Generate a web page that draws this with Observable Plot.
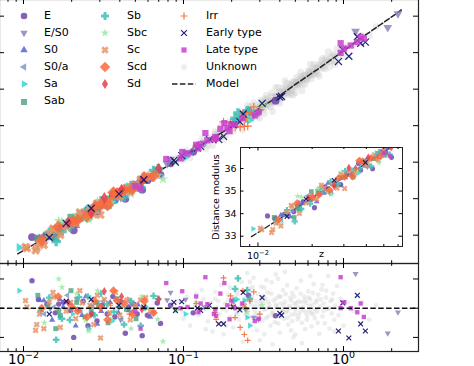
<!DOCTYPE html>
<html><head><meta charset="utf-8">
<script src="https://cdn.jsdelivr.net/npm/d3@7"></script>
<script src="https://cdn.jsdelivr.net/npm/@observablehq/plot@0.6"></script>
<style>
body{margin:0;background:#fff;font-family:"DejaVu Sans",sans-serif;}
#wrap{position:relative;width:474px;height:366px;overflow:hidden;background:#fff;}
#wrap > *{position:absolute;}
</style></head><body><div id="wrap"></div>
<script>
// ---------------- data (z, Hubble residual in mag) ----------------
const types = ["E","E/S0","S0","S0/a","Sa","Sab","Sb","Sbc","Sc","Scd","Sd","Irr","Early type","Late type","Unknown"];

const dE = [[0.0113,0.47],[0.0124,0.15],[0.014,0.07],[0.0158,-0.08],[0.0166,0.07],[0.0178,0.1],[0.0197,-0.04],[0.0206,-0.5],[0.0219,-0.02],[0.0236,0.12],[0.0253,-0.3],[0.0269,-0.1],[0.0288,-0.22],[0.0312,0.05],[0.0334,-0.1],[0.0362,0.2],[0.0372,-0.15],[0.0405,0.11],[0.0433,-0.43],[0.0455,0.02],[0.049,0.07],[0.0514,-0.1],[0.0552,-0.47],[0.0595,-0.12],[0.0685,0.09],[0.0718,-0.26],[0.083,0.05],[0.115,-0.08],[0.255,0.22],[0.376,-0.13]];
const dES0 = [[0.0147,-0.01],[0.0215,0.16],[0.0289,0.1],[0.0405,-0.2],[0.047,0.08],[0.065,-0.07],[0.079,0.14],[0.083,0.27],[0.103,0.15],[0.135,0.02],[0.275,-0.16],[0.295,-0.19],[1.19,0.59],[1.89,-0.43],[2.19,-0.07]];
const dS0 = [[0.0126,0.14],[0.0134,0.13],[0.0151,-0.2],[0.0169,0.15],[0.0177,0.02],[0.0195,0.08],[0.0212,-0.3],[0.0232,-0.12],[0.0245,0.2],[0.0262,0.03],[0.0289,-0.27],[0.0306,-0.05],[0.0348,0.1],[0.0392,-0.08],[0.0455,-0.04],[0.052,0.06],[0.062,-0.15]];
const dS0a = [[0.0135,-0.1],[0.0155,0.02],[0.0188,0.22],[0.0228,-0.06],[0.027,0.04],[0.0315,0.12],[0.041,-0.18],[0.048,-0.05]];
const dSa = [[0.0094,0.30],[0.0168,-0.15],[0.0203,-0.1],[0.0255,-0.35],[0.0285,0.1],[0.036,-0.22],[0.0455,0.15],[0.058,0.0],[0.103,-0.1],[0.216,0.15],[0.24,0.13],[0.245,0.0],[0.25,-0.16],[0.26,-0.3]];
const dSab = [[0.0123,0.22],[0.0142,0.05],[0.0159,-0.35],[0.0166,-0.04],[0.017,-0.125],[0.0198,0.3],[0.0215,0.1],[0.0242,-0.15],[0.0265,-0.05],[0.0295,0.05],[0.0338,-0.25],[0.0384,0.16],[0.044,-0.02],[0.0505,-0.18]];
const dSb = [[0.0128,-0.05],[0.0145,0.18],[0.016,-0.54],[0.0174,-0.18],[0.0195,-0.2],[0.0222,0.19],[0.0253,0.2],[0.0278,-0.12],[0.0305,0.25],[0.0334,0.07],[0.0368,-0.06],[0.0394,0.02],[0.0425,-0.28],[0.047,0.12],[0.054,-0.3],[0.0575,0.02],[0.065,0.21],[0.0695,0.16],[0.206,0.13],[0.21,0.33],[0.219,0.51],[0.25,0.31],[0.26,0.16]];
const dSbc = [[0.0135,-0.25],[0.0166,0.5],[0.0174,0.36],[0.0215,0.25],[0.0245,-0.21],[0.0256,-0.39],[0.029,0.3],[0.035,-0.18],[0.041,0.05],[0.047,-0.35],[0.055,0.2],[0.069,-0.19],[0.0745,-0.57],[0.09,-0.05],[0.12,0.1],[0.25,-0.07],[0.31,0.05]];
const dSc = [[0.0103,0.13],[0.0105,0.02],[0.0119,-0.38],[0.0121,-0.28],[0.0126,-0.1],[0.0134,-0.35],[0.0145,0.1],[0.0153,0.27],[0.0155,0.19],[0.017,-0.33],[0.0185,-0.05],[0.0197,0.1],[0.0212,-0.18],[0.0225,0.3],[0.0233,0.09],[0.026,0.05],[0.0275,-0.28],[0.0289,0.22],[0.0303,-0.51],[0.032,0.15],[0.0345,-0.08],[0.0376,0.27],[0.04,-0.12],[0.0443,0.14],[0.0465,-0.2],[0.05,0.05],[0.0539,0.14],[0.058,0.18],[0.062,-0.05],[0.24,0.04]];
const dScd = [[0.013,0.0],[0.0165,0.2],[0.0201,0.02],[0.0218,-0.05],[0.025,-0.15],[0.028,0.12],[0.0303,0.02],[0.0335,-0.2],[0.0365,0.3],[0.0384,0.13],[0.0425,0.08],[0.048,-0.1],[0.057,0.12],[0.065,-0.08]];
const dSd = [[0.019,0.1],[0.0265,-0.1],[0.032,0.29],[0.041,0.2],[0.055,-0.02],[0.07,0.15]];
const dIrr = [[0.035,0.05],[0.046,-0.1],[0.12,0.08],[0.157,-0.07],[0.16,-0.19],[0.178,0.52],[0.197,0.21],[0.2,0.05],[0.21,-0.16],[0.226,-0.33],[0.235,0.3],[0.24,-0.45],[0.245,-0.02],[0.252,-0.55],[0.26,0.12],[0.275,0.28],[0.3,-0.1]];
const dEarly = [[0.0145,-0.1],[0.0185,0.12],[0.0265,0.15],[0.0395,0.05],[0.0565,0.02],[0.0871,0.1],[0.089,-0.04],[0.0975,0.11],[0.122,0.0],[0.128,-0.04],[0.145,0.05],[0.166,-0.27],[0.178,-0.27],[0.205,0.02],[0.225,-0.03],[0.236,0.27],[0.31,0.18],[0.40,-0.09],[0.41,-0.12],[0.93,-0.39],[0.99,0.09],[1.08,-0.51],[1.22,0.22],[1.28,-0.27],[1.37,-0.39]];
const dLate = [[0.05,-0.05],[0.0539,-0.35],[0.078,0.43],[0.0958,0.0],[0.0982,0.29],[0.106,0.02],[0.12,0.2],[0.124,-0.07],[0.128,0.08],[0.137,0.53],[0.141,0.07],[0.155,-0.1],[0.158,-0.02],[0.16,-0.13],[0.17,0.25],[0.18,0.43],[0.188,0.05],[0.194,-0.19],[0.199,0.13],[0.21,0.0],[0.233,0.08],[0.279,-0.22],[0.295,-0.18],[0.96,0.53],[0.96,0.0],[1.01,0.1],[1.11,0.0],[1.22,-0.07],[1.28,0.08],[1.34,-0.15]];
const dUnknown = [
[0.092,0.12],[0.098,-0.05],[0.105,0.2],[0.11,-0.3],[0.118,0.05],[0.124,-0.12],[0.13,0.31],[0.137,-0.02],[0.142,-0.22],[0.149,0.1],
[0.152,-0.4],[0.157,0.16],[0.163,0.02],[0.168,-0.1],[0.172,0.4],[0.177,-0.25],[0.182,0.08],[0.186,-0.04],[0.191,0.23],[0.196,-0.15],
[0.201,0.05],[0.205,-0.33],[0.209,0.14],[0.213,-0.07],[0.218,0.28],[0.222,-0.2],[0.226,0.01],[0.231,0.45],[0.235,-0.58],[0.24,0.1],
[0.244,-0.11],[0.248,0.19],[0.252,-0.03],[0.257,0.33],[0.261,-0.27],[0.265,0.06],[0.27,-0.16],[0.274,0.52],[0.279,-0.05],[0.284,0.12],
[0.288,-0.38],[0.292,0.24],[0.297,-0.09],[0.301,0.02],[0.306,0.37],[0.311,-0.21],[0.316,0.09],[0.32,-0.45],[0.325,0.16],[0.33,-0.01],
[0.335,0.27],[0.34,-0.14],[0.345,0.06],[0.35,-0.3],[0.356,0.44],[0.361,-0.06],[0.366,0.13],[0.372,-0.24],[0.377,0.58],[0.383,0.03],
[0.389,-0.12],[0.395,0.21],[0.4,-0.42],[0.406,0.08],[0.412,-0.02],[0.418,0.31],[0.425,-0.18],[0.431,0.11],[0.438,-0.07],[0.444,0.39],
[0.451,-0.28],[0.458,0.04],[0.465,0.18],[0.472,-0.11],[0.479,0.26],[0.486,-0.5],[0.494,0.07],[0.501,-0.03],[0.509,0.34],[0.517,-0.19],
[0.525,0.12],[0.533,-0.08],[0.541,0.47],[0.55,-0.25],[0.558,0.02],[0.567,0.2],[0.575,-0.36],[0.584,0.09],[0.593,-0.13],[0.602,0.29],
[0.612,-0.04],[0.621,0.15],[0.631,-0.31],[0.641,0.06],[0.651,0.41],[0.661,-0.17],[0.672,0.1],[0.683,-0.06],[0.694,0.23],[0.705,-0.44],
[0.716,0.03],[0.728,0.32],[0.74,-0.14],[0.752,0.08],[0.764,-0.26],[0.777,0.18],[0.79,-0.02],[0.803,0.55],[0.817,-0.35],[0.831,0.12],
[0.845,-0.09],[0.86,0.25],[0.875,-0.2],[0.89,0.05],[0.91,0.38],[0.93,-0.12],[0.96,0.16],[1.0,-0.3],[1.06,0.1],[1.15,-0.05],
[0.228,0.07],[0.246,-0.06],[0.263,0.14],[0.282,-0.12],[0.299,0.08],[0.318,-0.03],[0.338,0.11],[0.358,-0.09],[0.38,0.17],[0.402,-0.15],
[0.423,0.05],[0.447,-0.04],[0.47,0.13],[0.497,-0.1],[0.52,0.02],[0.548,0.1],[0.58,-0.07],[0.61,0.04],[0.645,-0.1],[0.68,0.14],
[0.25,0.6],[0.3,-0.55],[0.36,-0.62],[0.43,0.62],[0.55,-0.6],[0.62,0.55],[0.27,0.36],[0.33,0.48],[0.47,-0.38],[0.74,0.4],
[1.3,0.1],[1.45,-0.2],[1.6,0.05],[0.215,0.22],[0.195,0.35],[0.178,-0.45],[0.158,0.28],[0.138,-0.36],[0.12,0.24],[0.1,-0.18],
[0.205,0.09],[0.218,-0.1],[0.232,0.03],[0.243,0.16],[0.256,-0.14],[0.268,0.2],[0.281,0.04],[0.293,-0.22],[0.305,0.13],[0.317,0.21],
[0.328,-0.17],[0.341,0.01],[0.353,0.25],[0.364,-0.13],[0.378,0.06],[0.391,-0.26],[0.405,0.19],[0.419,-0.05],[0.434,0.24],[0.449,-0.16],
[0.463,0.0],[0.478,-0.22],[0.492,0.2],[0.507,0.09],[0.523,-0.14],[0.539,0.25],[0.556,-0.03],[0.573,0.14],[0.59,-0.2],[0.607,0.18],
[0.625,-0.08],[0.643,0.26],[0.662,-0.02],[0.69,-0.25],[0.72,0.15],[0.75,-0.05],[0.78,0.3],[0.81,0.0],[0.85,0.15],[0.88,-0.4],
[0.165,0.12],[0.175,-0.02],[0.185,-0.3],[0.19,0.14],[0.145,0.0],[0.133,0.15],[0.26,0.45],[0.32,0.35],[0.39,0.5],[0.5,-0.45]];

// model distance modulus
const modelZ  = [0.0092,0.01,0.015,0.02,0.03,0.05,0.07,0.1,0.15,0.2,0.3,0.4,0.5,0.7,1.0,1.3,1.6,2.0,2.3];
const modelMu = [32.98,33.16,34.05,34.70,35.60,36.74,37.50,38.31,39.28,39.96,40.96,41.65,42.26,43.13,44.10,44.83,45.37,45.96,46.34];

const mainTicksY = [34,36,38,40,42,44,46];
const resTicksY = [-0.5,0,0.5];
const insetTicksY = [33,34,35,36];
const decadeTicks = [0.001,0.01,0.1,1,10];

// ---------------- styles ----------------
const tau = Math.PI*2;
function sym(f){ return {draw(c,size){ f(c, Math.sqrt(size/Math.PI)); }}; }
function poly(c, pts){ pts.forEach(([x,y],i)=> i? c.lineTo(x,y) : c.moveTo(x,y)); c.closePath(); }
function plusPts(a,t){ return [[-t,-a],[t,-a],[t,-t],[a,-t],[a,t],[t,t],[t,a],[-t,a],[-t,t],[-a,t],[-a,-t],[-t,-t]]; }
const S2 = Math.SQRT1_2;
const shapes = {
  circle: sym((c,r)=>{ c.moveTo(r,0); c.arc(0,0,r,0,tau); }),
  triDown: sym((c,r)=>{ const a=r*1.3; poly(c,[[0,a],[a*0.866,-a*0.5],[-a*0.866,-a*0.5]]); }),
  triUp: sym((c,r)=>{ const a=r*1.3; poly(c,[[0,-a],[a*0.866,a*0.5],[-a*0.866,a*0.5]]); }),
  triLeft: sym((c,r)=>{ const a=r*1.3; poly(c,[[-a,0],[a*0.5,-a*0.866],[a*0.5,a*0.866]]); }),
  triRight: sym((c,r)=>{ const a=r*1.3; poly(c,[[a,0],[-a*0.5,-a*0.866],[-a*0.5,a*0.866]]); }),
  square: sym((c,r)=>{ const s=r*0.88; c.rect(-s,-s,2*s,2*s); }),
  plusF: sym((c,r)=>{ const a=r*1.15; poly(c, plusPts(a, a*0.36)); }),
  star: sym((c,r)=>{ const a=r*1.45, p=[]; for(let k=0;k<10;k++){ const an=-Math.PI/2+k*Math.PI/5, rr=k%2? a*0.4:a; p.push([rr*Math.cos(an), rr*Math.sin(an)]); } poly(c,p); }),
  xF: sym((c,r)=>{ const a=r*1.15; poly(c, plusPts(a,a*0.36).map(([x,y])=>[(x-y)*S2,(x+y)*S2])); }),
  diamond: sym((c,r)=>{ const a=r*1.35; poly(c,[[0,-a],[a,0],[0,a],[-a,0]]); }),
  thinDiamond: sym((c,r)=>{ const a=r*1.35, w=a*0.62; poly(c,[[0,-a],[w,0],[0,a],[-w,0]]); }),
  plus: sym((c,r)=>{ const a=r*1.15; c.moveTo(-a,0); c.lineTo(a,0); c.moveTo(0,-a); c.lineTo(0,a); }),
  times: sym((c,r)=>{ const a=r*0.95; c.moveTo(-a,-a); c.lineTo(a,a); c.moveTo(-a,a); c.lineTo(a,-a); })
};
const styles = {
  "E":          {color:"#6a3fa8", shape:shapes.circle,      r:3.2, op:0.82},
  "E/S0":       {color:"#8a86b8", shape:shapes.triDown,     r:3.2, op:0.85},
  "S0":         {color:"#5f5fd2", shape:shapes.triUp,       r:3.2, op:0.85},
  "S0/a":       {color:"#7d9cc8", shape:shapes.triLeft,     r:3.2, op:0.85},
  "Sa":         {color:"#33d6d0", shape:shapes.triRight,    r:3.2, op:0.85},
  "Sab":        {color:"#4fa27f", shape:shapes.square,      r:3.3, op:0.82},
  "Sb":         {color:"#3fc0b6", shape:shapes.plusF,       r:3.4, op:0.85},
  "Sbc":        {color:"#9fe8a8", shape:shapes.star,        r:3.0, op:0.85},
  "Sc":         {color:"#e59366", shape:shapes.xF,          r:3.3, op:0.82},
  "Scd":        {color:"#fa6a3c", shape:shapes.diamond,     r:3.8, op:0.85},
  "Sd":         {color:"#e5404c", shape:shapes.thinDiamond, r:3.6, op:0.85},
  "Irr":        {color:"#f36f3a", shape:shapes.plus,        r:3.0, op:0.9, stroke:true},
  "Early type": {color:"#16166e", shape:shapes.times,       r:3.0, op:0.95, stroke:true},
  "Late type":  {color:"#c83fcf", shape:shapes.square,      r:2.9, op:0.85},
  "Unknown":    {color:"#bdbdbd", shape:shapes.circle,      r:2.8, op:0.27}
};
const series = {"E":dE,"E/S0":dES0,"S0":dS0,"S0/a":dS0a,"Sa":dSa,"Sab":dSab,"Sb":dSb,"Sbc":dSbc,"Sc":dSc,"Scd":dScd,"Sd":dSd,"Irr":dIrr,"Early type":dEarly,"Late type":dLate,"Unknown":dUnknown};

// ---------------- derived table ----------------
const LZ = modelZ.map(Math.log10);
function modelAt(z){
  const lz = Math.log10(z);
  let i = 0;
  while (i < LZ.length-2 && lz > LZ[i+1]) i++;
  const t = (lz - LZ[i])/(LZ[i+1]-LZ[i]);
  return modelMu[i] + t*(modelMu[i+1]-modelMu[i]);
}
const rows = types.flatMap(t => series[t].map(([z,res]) => ({type:t, z, res, mu: modelAt(z)+res})));
const model = modelZ.map((z,i)=>({z, mu: modelMu[i]}));

function dots(yKey, k, filter){
  const order = ["Unknown", ...types.filter(t=>t!=="Unknown")];
  return order.map(t=>{
    const st = styles[t];
    const data = rows.filter(d=>d.type===t && (!filter || filter(d)));
    const o = {x:"z", y:yKey, symbol:st.shape, r:st.r*k, clip:true};
    if (st.stroke) Object.assign(o,{fill:"none", stroke:st.color, strokeWidth:1.2, strokeOpacity:st.op});
    else Object.assign(o,{fill:st.color, fillOpacity:st.op, stroke:"none"});
    return Plot.dot(data,o);
  });
}
function minors(lo,hi){ const out=[]; for(let e=-4;e<=1;e++) for(let k=2;k<=9;k++){ const v=k*Math.pow(10,e); if(v>lo&&v<hi) out.push(+v.toPrecision(3)); } return out; }
function frameTicks(dom, yMaj, FW, FH, L, l){
  const s = {stroke:"#000", strokeWidth:1};
  const xMaj = decadeTicks.filter(v=>v>dom[0]&&v<dom[1]), xMin = minors(dom[0],dom[1]);
  return [
    Plot.tickX(xMaj,{x:d=>d, insetTop:FH-L, ...s}),
    Plot.tickX(xMaj,{x:d=>d, insetBottom:FH-L, ...s}),
    Plot.tickX(xMin,{x:d=>d, insetTop:FH-l, ...s}),
    Plot.tickX(xMin,{x:d=>d, insetBottom:FH-l, ...s}),
    Plot.tickY(yMaj,{y:d=>d, insetRight:FW-L, ...s}),
    Plot.tickY(yMaj,{y:d=>d, insetLeft:FW-L, ...s})
  ];
}
const dash = {stroke:"#222", strokeWidth:1.5, strokeDasharray:"5.5,2.4"};
const logLabel = d => { const e = Math.round(Math.log10(d)); return "10^" + (e<0 ? "\u2212"+(-e) : String(e)); };
function sup(svg, fs, raise){
  const NS="http://www.w3.org/2000/svg";
  svg.querySelectorAll("text").forEach(t=>{
    const m = t.textContent.match(/^10\^(.+)$/);
    if(!m) return;
    t.textContent="";
    const a=document.createElementNS(NS,"tspan"); a.textContent="10";
    const b=document.createElementNS(NS,"tspan"); b.textContent=m[1];
    b.setAttribute("dy", -raise); b.setAttribute("font-size", fs*0.7);
    t.append(a,b);
  });
}
const baseStyle = {background:"transparent", fontFamily:"DejaVu Sans", maxWidth:"none", overflow:"visible", color:"#000"};
const wrap = document.getElementById("wrap");

// ---------------- main panel ----------------
const mainDom = [0.00708, 2.943];
const mainDots = dots("mu",1.22);
const main = Plot.plot({
  width:474, height:283, marginLeft:49, marginRight:6, marginTop:19, marginBottom:0,
  style: baseStyle,
  x:{type:"log", domain:mainDom, axis:null},
  y:{domain:[32.448,46.913], axis:null},
  marks:[
    mainDots[0],
    Plot.line(model,{x:"z", y:"mu", ...dash, clip:true}),
    ...mainDots.slice(1),
    Plot.frame({stroke:"#222", strokeWidth:1.2}),
    ...frameTicks(mainDom, mainTicksY, 419, 264, 5, 2.8)
  ]
});
main.style.left="-50px"; main.style.top="-20px";
wrap.append(main);

// ---------------- residual panel ----------------
const res = Plot.plot({
  width:474, height:141, marginLeft:49, marginRight:6, marginTop:23, marginBottom:30,
  style: baseStyle,
  x:{type:"log", domain:mainDom, label:null},
  y:{domain:[-0.7414,0.765], axis:null},
  marks:[
    ...dots("res",0.85),
    Plot.ruleY([0],{stroke:"#111", strokeWidth:1.5, strokeDasharray:"5.5,2.4"}),
    Plot.frame({stroke:"#222", strokeWidth:1.2}),
    ...frameTicks(mainDom, resTicksY, 419, 88, 5, 2.8),
    Plot.axisX([0.01,0.1,1],{anchor:"bottom", tickSize:0, tickPadding:3, fontSize:13.5, tickFormat:logLabel, label:null})
  ]
});
res.style.left="-50px"; res.style.top="240px";
sup(res, 13.5, 6.2);
wrap.append(res);

// ---------------- inset ----------------
const insetDom = [0.008, 0.0635];
const insetDots = dots("mu",0.8,d=>d.z<0.08);
const inset = Plot.plot({
  width:206, height:128, marginLeft:40, marginRight:4, marginTop:7, marginBottom:22,
  style: baseStyle,
  x:{type:"log", domain:insetDom, label:null},
  y:{domain:[32.544,36.93], label:null},
  marks:[
    Plot.frame({fill:"white", stroke:"none"}),
    Plot.line(model,{x:"z", y:"mu", ...dash, strokeWidth:1.3, clip:true}),
    ...insetDots.slice(1),
    Plot.frame({stroke:"#222", strokeWidth:1}),
    ...frameTicks(insetDom, insetTicksY, 162, 99, 3.5, 2),
    Plot.axisX([0.01],{anchor:"bottom", tickSize:0, tickPadding:6, fontSize:9.5, tickFormat:logLabel, label:null}),
    Plot.axisY(insetTicksY,{anchor:"left", tickSize:0, tickPadding:4, fontSize:9.5, label:null}),
    Plot.text(["Distance modulus"],{text:d=>d, frameAnchor:"left", textAnchor:"middle", rotate:-90, dx:-25, fontSize:9.5}),
    Plot.text(["z"],{text:d=>d, frameAnchor:"bottom", textAnchor:"middle", dy:10, fontSize:9.5})
  ]
});
inset.style.left="200px"; inset.style.top="140px";
sup(inset, 9.5, 4.2);
wrap.append(inset);

// ---------------- legend ----------------
const legendCols = [["E","E/S0","S0","S0/a","Sa","Sab"],["Sb","Sbc","Sc","Scd","Sd"],["Irr","Early type","Late type","Unknown","Model"]];
const markX = [24,105,184], textX = [44,127,206], rowY0 = 16, rowDy = 17.1;
const leg = document.createElement("div");
leg.style.cssText = "left:0;top:0;width:474px;height:120px;font:11px 'DejaVu Sans';color:#000;";
legendCols.forEach((col,ci)=>col.forEach((name,ri)=>{
  const cy = rowY0 + ri*rowDy;
  let svg;
  if (name==="Model"){
    svg = d3.create("svg").attr("width",28).attr("height",10)
      .style("position","absolute").style("left",(markX[ci]-13)+"px").style("top",(cy-5)+"px");
    svg.append("line").attr("x1",1).attr("x2",25).attr("y1",5).attr("y2",5)
      .attr("stroke","#222").attr("stroke-width",1.5).attr("stroke-dasharray","5.5,2.4");
  } else {
    const st = styles[name];
    const p = d3.path(); st.shape.draw(p, Math.PI*st.r*st.r*1.05);
    svg = d3.create("svg").attr("width",20).attr("height",20)
      .style("position","absolute").style("left",(markX[ci]-10)+"px").style("top",(cy-10)+"px");
    const path = svg.append("path").attr("transform","translate(10,10)").attr("d",p.toString());
    if (st.stroke) path.attr("fill","none").attr("stroke",st.color).attr("stroke-width",1.2).attr("stroke-opacity",st.op);
    else path.attr("fill",st.color).attr("fill-opacity",st.op);
  }
  leg.append(svg.node());
  const tx = document.createElement("div");
  tx.textContent = name;
  tx.style.cssText = `position:absolute;left:${textX[ci]}px;top:${cy-7.5}px;line-height:14px;white-space:nowrap;`;
  leg.append(tx);
}));
wrap.append(leg);
</script></body></html>
